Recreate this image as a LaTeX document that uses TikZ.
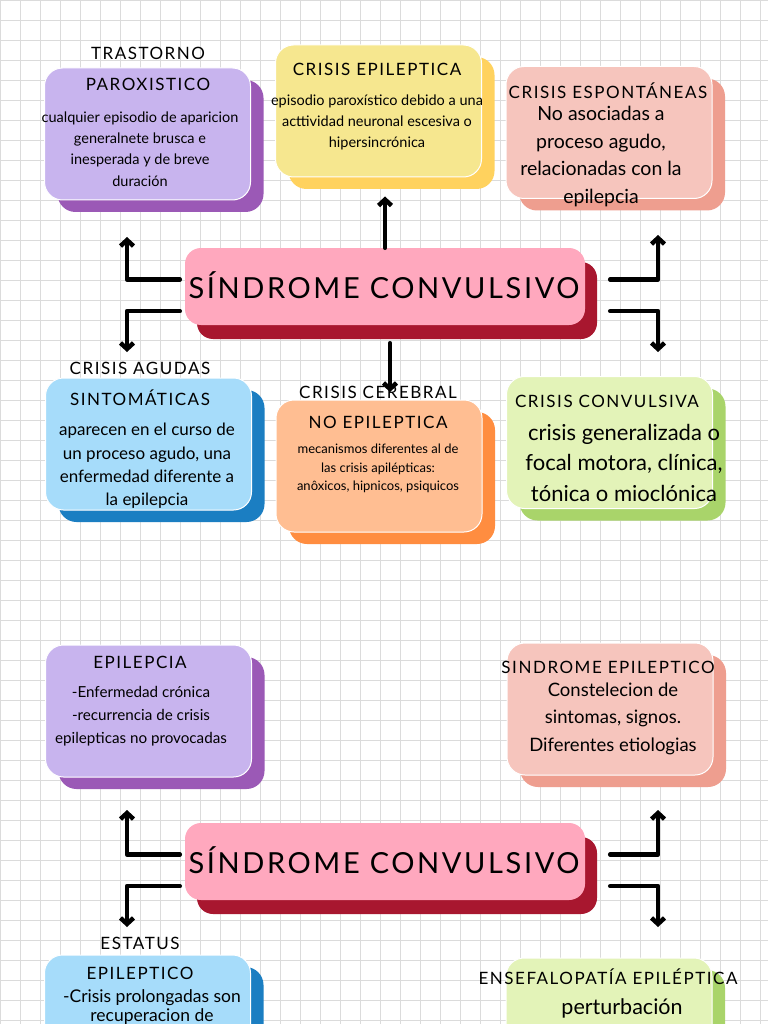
\documentclass[tikz,border=0pt]{standalone}
\usepackage{fontspec}
\setmainfont{Lato}
\newfontfamily\capsfont[LetterSpace=9]{Lato}
\usetikzlibrary{arrows.meta,shadows}
\newcommand\fsz[2]{\fontsize{#1}{#2}\selectfont}

\definecolor{lilacF}{HTML}{C8B4EE}
\definecolor{lilacB}{HTML}{9B59B6}
\definecolor{sunF}{HTML}{F6E78F}
\definecolor{sunB}{HTML}{FFD25E}
\definecolor{roseF}{HTML}{F6C5BD}
\definecolor{roseB}{HTML}{EE9E8F}
\definecolor{skyF}{HTML}{A6DCFA}
\definecolor{skyB}{HTML}{1B7EC2}
\definecolor{peachF}{HTML}{FFBE92}
\definecolor{peachB}{HTML}{FF8D40}
\definecolor{limeF}{HTML}{E3F3B8}
\definecolor{limeB}{HTML}{A9D46A}
\definecolor{candyF}{HTML}{FFA8BE}
\definecolor{candyB}{HTML}{A8172F}

\begin{document}
\begin{tikzpicture}[x=1pt,y=1pt,yscale=-1,
	card/.style 2 args={rectangle,rounded corners=18pt,fill=#1,draw=white,line width=1pt,
		general shadow={fill=#2,shadow xshift=13pt,shadow yshift=-12pt},
		minimum width=206pt,minimum height=132pt},
	bar/.style 2 args={rectangle,rounded corners=16pt,fill=#1,
		general shadow={fill=#2,shadow xshift=12pt,shadow yshift=-14pt},
		minimum width=400pt,minimum height=77pt},
	head/.style={inner sep=0pt,font=\capsfont\fsz{17}{20}},
	txt/.style 2 args={inner sep=0pt,align=center,font=\fsz{#1}{#2}},
	conn/.style={line width=4.5pt,line cap=round,line join=round,-{Straight Barb[length=6pt,width=13pt]}}]
	\useasboundingbox (0,0) rectangle (768,1024);
	\clip (0,0) rectangle (768,1024);
	\fill[white] (0,0) rectangle (768,1024);
	\draw[gray!28,line width=0.5pt] (0,0) grid[step=20] (768,1024);

	\node[card={lilacF}{lilacB}] (trast) at (147.5,134) {};
	\node[card={sunF}{sunB}] (epi) at (378.5,111) {};
	\node[card={roseF}{roseB}] (espo) at (609,132.5) {};
	\node[card={skyF}{skyB}] (agud) at (148.5,444) {};
	\node[card={peachF}{peachB}] (cere) at (379,466) {};
	\node[card={limeF}{limeB}] (conv) at (609.5,442.5) {};
	\node[card={lilacF}{lilacB}] (epil) at (148.5,711) {};
	\node[card={roseF}{roseB}] (sind) at (610,709) {};
	\node[card={skyF}{skyB}] (esta) at (147.5,1021) {};
	\node[card={limeF}{limeB}] (ense) at (609,1024) {};
	\node[bar={candyF}{candyB}] (main1) at (385,286.5) {};
	\node[bar={candyF}{candyB}] (main2) at (385,861.5) {};

	\node[inner sep=0pt,font=\capsfont\fsz{29}{32}] (title1) at (384,285) {SÍNDROME CONVULSIVO};
	\node[inner sep=0pt,font=\capsfont\fsz{29}{32}] (title2) at (384,860) {SÍNDROME CONVULSIVO};

	\node[head] (trastLbl) at (148,53) {TRASTORNO};
	\node[head] (trastHd) at (148,84) {PAROXISTICO};
	\node[txt={14.5}{21.3}] (trastTx) at (140,149) {cualquier episodio de aparicion\\generalnete brusca e\\inesperada y de breve\\duración};
	\node[head] (epiHd) at (377,69) {CRISIS EPILEPTICA};
	\node[txt={14.5}{21}] (epiTx) at (377,122) {episodio paroxístico debido a una\\acttividad neuronal escesiva o\\hipersincrónica};
	\node[head] (espoHd) at (608,91) {CRISIS ESPONTÁNEAS};
	\node[txt={19.5}{27.7}] (espoTx) at (601,156.5) {No asociadas a\\proceso agudo,\\relacionadas con la\\epilepcia};

	\node[head] (agudLbl) at (140,368) {CRISIS AGUDAS};
	\node[head] (agudHd) at (140,398) {SINTOMÁTICAS};
	\node[txt={17}{23.3}] (agudTx) at (147,466) {aparecen en el curso de\\un proceso agudo, una\\enfermedad diferente a\\la epilepcia};
	\node[head] (cereLbl) at (378,392) {CRISIS CEREBRAL};
	\node[head] (cereHd) at (378,422) {NO EPILEPTICA};
	\node[txt={13}{18.5}] (cereTx) at (378,468.5) {mecanismos diferentes al de\\las crisis apilépticas:\\anôxicos, hipnicos, psiquicos};
	\node[head] (convHd) at (607,401) {CRISIS CONVULSIVA};
	\node[txt={22}{30.5}] (convTx) at (624,462.5) {crisis generalizada o\\focal motora, clínica,\\tónica o mioclónica};

	\node[head] (epilHd) at (140,662) {EPILEPCIA};
	\node[txt={15.2}{23}] (epilTx) at (141,716) {-Enfermedad crónica\\-recurrencia de crisis\\epilepticas no provocadas};
	\node[head] (sindHd) at (608,667) {SINDROME EPILEPTICO};
	\node[txt={18.5}{27.5}] (sindTx) at (613,718.5) {Constelecion de\\sintomas, signos.\\Diferentes etiologias};

	\node[head] (estaLbl) at (140,943) {ESTATUS};
	\node[head] (estaHd) at (140,973) {EPILEPTICO};
	\node[txt={17.5}{19}] (estaTx) at (152,1007) {-Crisis prolongadas son\\recuperacion de};
	\node[head] (enseHd) at (608,977) {ENSEFALOPATÍA EPILÉPTICA};
	\node[txt={21.5}{24}] (enseTx) at (622,1008) {perturbación};

	\coordinate (upL1) at (127,237);
	\coordinate (dnL1) at (127,352);
	\coordinate (upR1) at (658,235);
	\coordinate (dnR1) at (658,352);
	\coordinate (upL2) at (127,810);
	\coordinate (dnL2) at (127,927);
	\coordinate (upR2) at (658,810);
	\coordinate (dnR2) at (658,927);

	\draw[conn] ([xshift=-5pt]main1.178) -| (upL1);
	\draw[conn] ([xshift=-5pt]main1.187) -| (dnL1);
	\draw[conn] ([xshift=25pt]main1.2) -| (upR1);
	\draw[conn] ([xshift=25pt]main1.353) -| (dnR1);
	\draw[conn,shorten >=19pt] (main1.north) -- (main1.north |- epi.south);
	\draw[conn,shorten <=18pt] ([xshift=5pt]main1.south) -- ([xshift=5pt]main1.south |- cereLbl);

	\draw[conn] ([xshift=-5pt]main2.178) -| (upL2);
	\draw[conn] ([xshift=-5pt]main2.187) -| (dnL2);
	\draw[conn] ([xshift=25pt]main2.2) -| (upR2);
	\draw[conn] ([xshift=25pt]main2.353) -| (dnR2);
\end{tikzpicture}
\end{document}
